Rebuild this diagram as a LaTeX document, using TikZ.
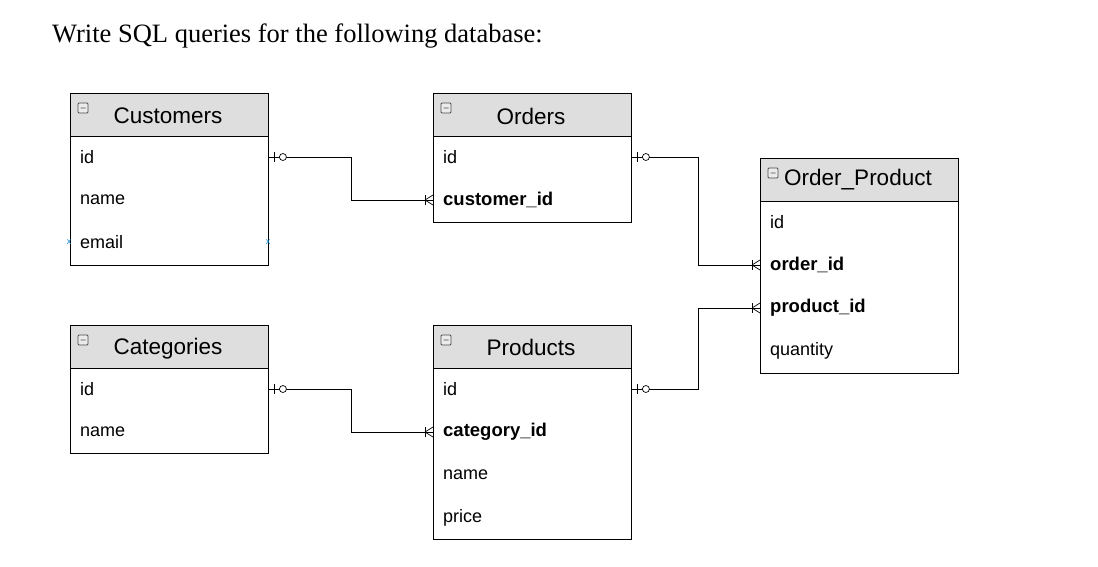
\documentclass[tikz,border=0pt]{standalone}
\usepackage{fontspec}
\setmainfont{Liberation Sans}
\newfontfamily\titlefont{Liberation Serif}
\begin{document}
\begin{tikzpicture}[x=1pt, y=-1pt, every node/.append style={inner sep=0pt},
  hdr/.style={draw, line width=0.9pt, fill=black!13, minimum width=198pt, minimum height=43pt, anchor=north west},
  body/.style={draw, line width=0.9pt, minimum width=198pt, anchor=north west},
  row/.style={anchor=west, font=\fontsize{18}{20}\selectfont},
  key/.style={row, font=\fontsize{18.5}{20}\selectfont\bfseries},
  title/.style={font=\fontsize{22.5}{24}\selectfont},
  link/.style={line width=0.7pt}]
\useasboundingbox (0,0) rectangle (1098,566);

\node[anchor=west, font=\titlefont\fontsize{26.5}{30}\selectfont] (task) at (52,36) {Write SQL queries for the following database:};

% Customers
\node[body, minimum height=172pt] (cust) at (70,93) {};
\node[hdr] (custH) at (70,93) {};
\node[title] at (168,116) {Customers};
\node[row] (custId) at (80,157) {id};
\node[row] at (80,200) {name};
\node[row] at (80,242) {email};
\node[font=\small, text=cyan!70!blue] at (69,242) {x};
\node[font=\small, text=cyan!70!blue] at (268,242) {x};

% Orders
\node[body, minimum height=129pt] (ord) at (433,93) {};
\node[hdr] (ordH) at (433,93) {};
\node[title] at (531,116) {Orders};
\node[row] (ordId) at (443,157) {id};
\node[key] (ordCust) at (443,200) {customer\_id};

% Order_Product
\node[body, minimum height=215pt] (op) at (760,158) {};
\node[hdr] (opH) at (760,158) {};
\node[title] at (858,180) {Order\_Product};
\node[row] at (770,222) {id};
\node[key] (opOrd) at (770,265) {order\_id};
\node[key] (opProd) at (770,308) {product\_id};
\node[row] at (770,351) {quantity};

% Categories
\node[body, minimum height=128pt] (cat) at (70,325) {};
\node[hdr] (catH) at (70,325) {};
\node[title] at (168,349) {Categories};
\node[row] (catId) at (80,389) {id};
\node[row] at (80,432) {name};

% Products
\node[body, minimum height=214pt] (prod) at (433,325) {};
\node[hdr] (prodH) at (433,325) {};
\node[title] at (531,347) {Products};
\node[row] (prodId) at (443,389) {id};
\node[key] (prodCat) at (443,432) {category\_id};
\node[row] at (443,475) {name};
\node[row] at (443,518) {price};

% collapse icons
\foreach \t in {custH, ordH, opH, catH, prodH}
  \draw[black!70, line width=0.8pt, fill=black!8, rounded corners=1pt] ([xshift=8pt, yshift=-10pt]\t.north west) rectangle ++(10pt,-10pt)
    ([xshift=10.5pt, yshift=-15pt]\t.north west) -- ++(5pt,0);

% relations
\coordinate (a1) at (cust.east |- custId);  \coordinate (a2) at (ord.west |- ordCust);
\coordinate (b1) at (ord.east |- ordId);    \coordinate (b2) at (op.west |- opOrd);
\coordinate (c1) at (prod.east |- prodId);  \coordinate (c2) at (op.west |- opProd);
\coordinate (d1) at (cat.east |- catId);    \coordinate (d2) at (prod.west |- prodCat);
\draw[link] (a1) -- ++(82,0) |- (a2);
\draw[link] (b1) -- ++(66,0) |- (b2);
\draw[link] (c1) -- ++(66,0) |- (c2);
\draw[link] (d1) -- ++(82,0) |- (d2);
\foreach \p in {a1, b1, c1, d1} {
  \draw[link] ([xshift=5pt]\p) ++(0,-5) -- ++(0,10);
  \draw[link, fill=white] ([xshift=14pt]\p) circle (3.5pt);
}
\foreach \p in {a2, b2, c2, d2} {
  \draw[link] ([xshift=-8pt]\p) ++(0,-5) -- ++(0,10);
  \draw[link] ([xshift=-8pt]\p) -- ++(8,-5) ([xshift=-8pt]\p) -- ++(8,5);
}
\end{tikzpicture}
\end{document}
